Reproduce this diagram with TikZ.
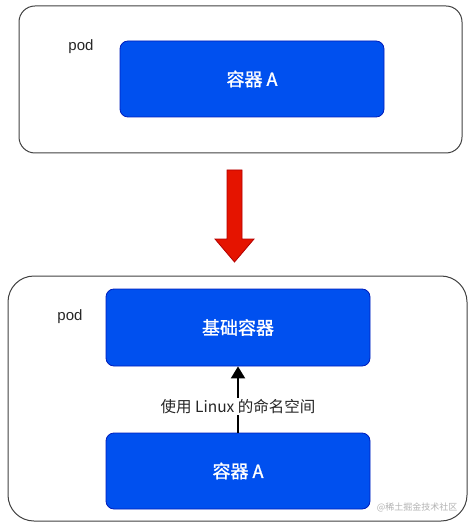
\documentclass[tikz,border=0pt]{standalone}
\usepackage{fontspec}
\setmainfont{Noto Sans CJK SC}
\newfontfamily\cjkmed{Noto Sans CJK SC}[FakeBold=1.2]
\newfontfamily\latin{Liberation Sans}
\usetikzlibrary{arrows.meta}
\definecolor{cblue}{HTML}{0050EF}
\definecolor{cbluedk}{HTML}{001DBC}
\definecolor{cred}{HTML}{E51400}
\definecolor{creddk}{HTML}{B20000}
\tikzset{
  podbox/.style={draw=black!75, line width=1pt, rounded corners=16pt},
  cbox/.style={draw=cbluedk, fill=cblue, line width=0.8pt, rounded corners=8pt, text=white, font=\cjkmed\fontsize{18}{20}\selectfont},
  podlabel/.style={font=\latin\fontsize{15}{17}\selectfont, text=black!85},
}
\begin{document}
\begin{tikzpicture}[x=1pt,y=-1pt]
\useasboundingbox (0,0) rectangle (474,526);
% top pod
\draw[podbox] (19,6) rectangle (462,153);
\node[podlabel] (pod1) at (81,47) {pod};
\node[cbox, minimum width=264pt, minimum height=76pt, inner sep=0pt] (ca1) at (252,79) {容器 A};
% red arrow
\draw[draw=creddk, fill=cred, line width=0.8pt]
  (227,170) -- (242,170) -- (242,239) -- (254,239) -- (234.5,262) -- (215,239) -- (227,239) -- cycle;
% bottom pod
\draw[podbox, rounded corners=26pt] (8,276) rectangle (467,521);
\node[podlabel] (pod2) at (70,317) {pod};
\node[cbox, minimum width=264pt, minimum height=77pt, inner sep=0pt] (base) at (238,327.5) {基础容器};
\node[cbox, minimum width=264pt, minimum height=76pt, inner sep=0pt] (ca2) at (238,471) {容器 A};
\draw[line width=2pt, -{Triangle[length=12pt,width=14pt]}] (ca2.north) -- (base.south)
  node[midway, fill=white, inner sep=1pt, font=\fontsize{15.5}{17}\selectfont, text=black!85, yshift=-7pt] (lbl) {使用 Linux 的命名空间};
\node[font=\fontsize{9}{10}\selectfont, text=black!30, anchor=east] (wm) at (461,507) {@稀土掘金技术社区};
\end{tikzpicture}
\end{document}
